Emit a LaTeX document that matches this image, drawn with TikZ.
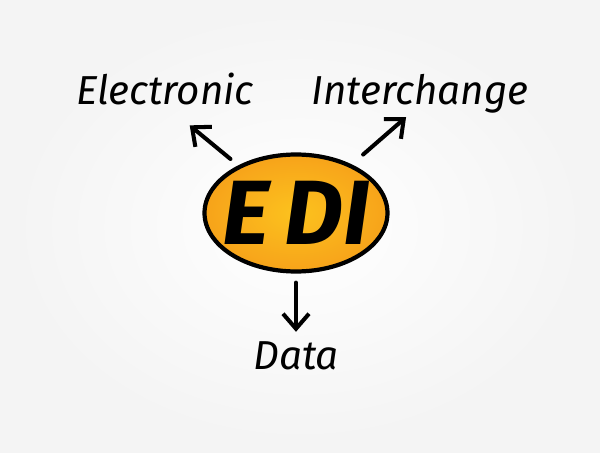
\documentclass[tikz,border=0pt]{standalone}
\usepackage{fontspec}
\setmainfont{Fira Sans}
\usepackage{tikz}
\usetikzlibrary{shapes.geometric,arrows.meta}
\definecolor{ediyellow}{HTML}{FCC21E}
\definecolor{ediorange}{HTML}{F7A31A}
\tikzstyle{word} = [inner sep=0pt, anchor=base, font=\fontsize{23}{27}\selectfont\itshape]
\tikzstyle{bubble} = [ellipse, draw, line width=2.4pt, inner sep=0pt, minimum width=3.66cm, minimum height=2.34cm, inner color=ediyellow, outer color=ediorange, font=\fontsize{52}{56}\selectfont\bfseries\itshape]
\tikzstyle{pointer} = [line width=2.3pt, line cap=round, -{Straight Barb[length=3mm,width=5.2mm]}]

\begin{document}
\begin{tikzpicture}[x=0.02cm, y=-0.02cm]
    \shade[inner color=white, outer color=gray!9] (0,0) rectangle (600,453);
    \useasboundingbox (0,0) rectangle (600,453);
    \node[bubble] (edi) at (296,213) {\makebox[0pt]{E\,DI}};
    \node[word] (elec) at (165,105) {Electronic};
    \node[word] (inter) at (420,105) {Interchange};
    \node[word] (data) at (296,370) {Data};
    \draw[pointer, shorten <=0.2cm, shorten >=0.64cm] (edi) -- (elec.base);
    \draw[pointer, shorten <=0.3cm, shorten >=0.37cm] (edi) -- (inter.base);
    \draw[pointer, shorten <=0.18cm, shorten >=0.2cm] (edi) -- (data);
\end{tikzpicture}
\end{document}
